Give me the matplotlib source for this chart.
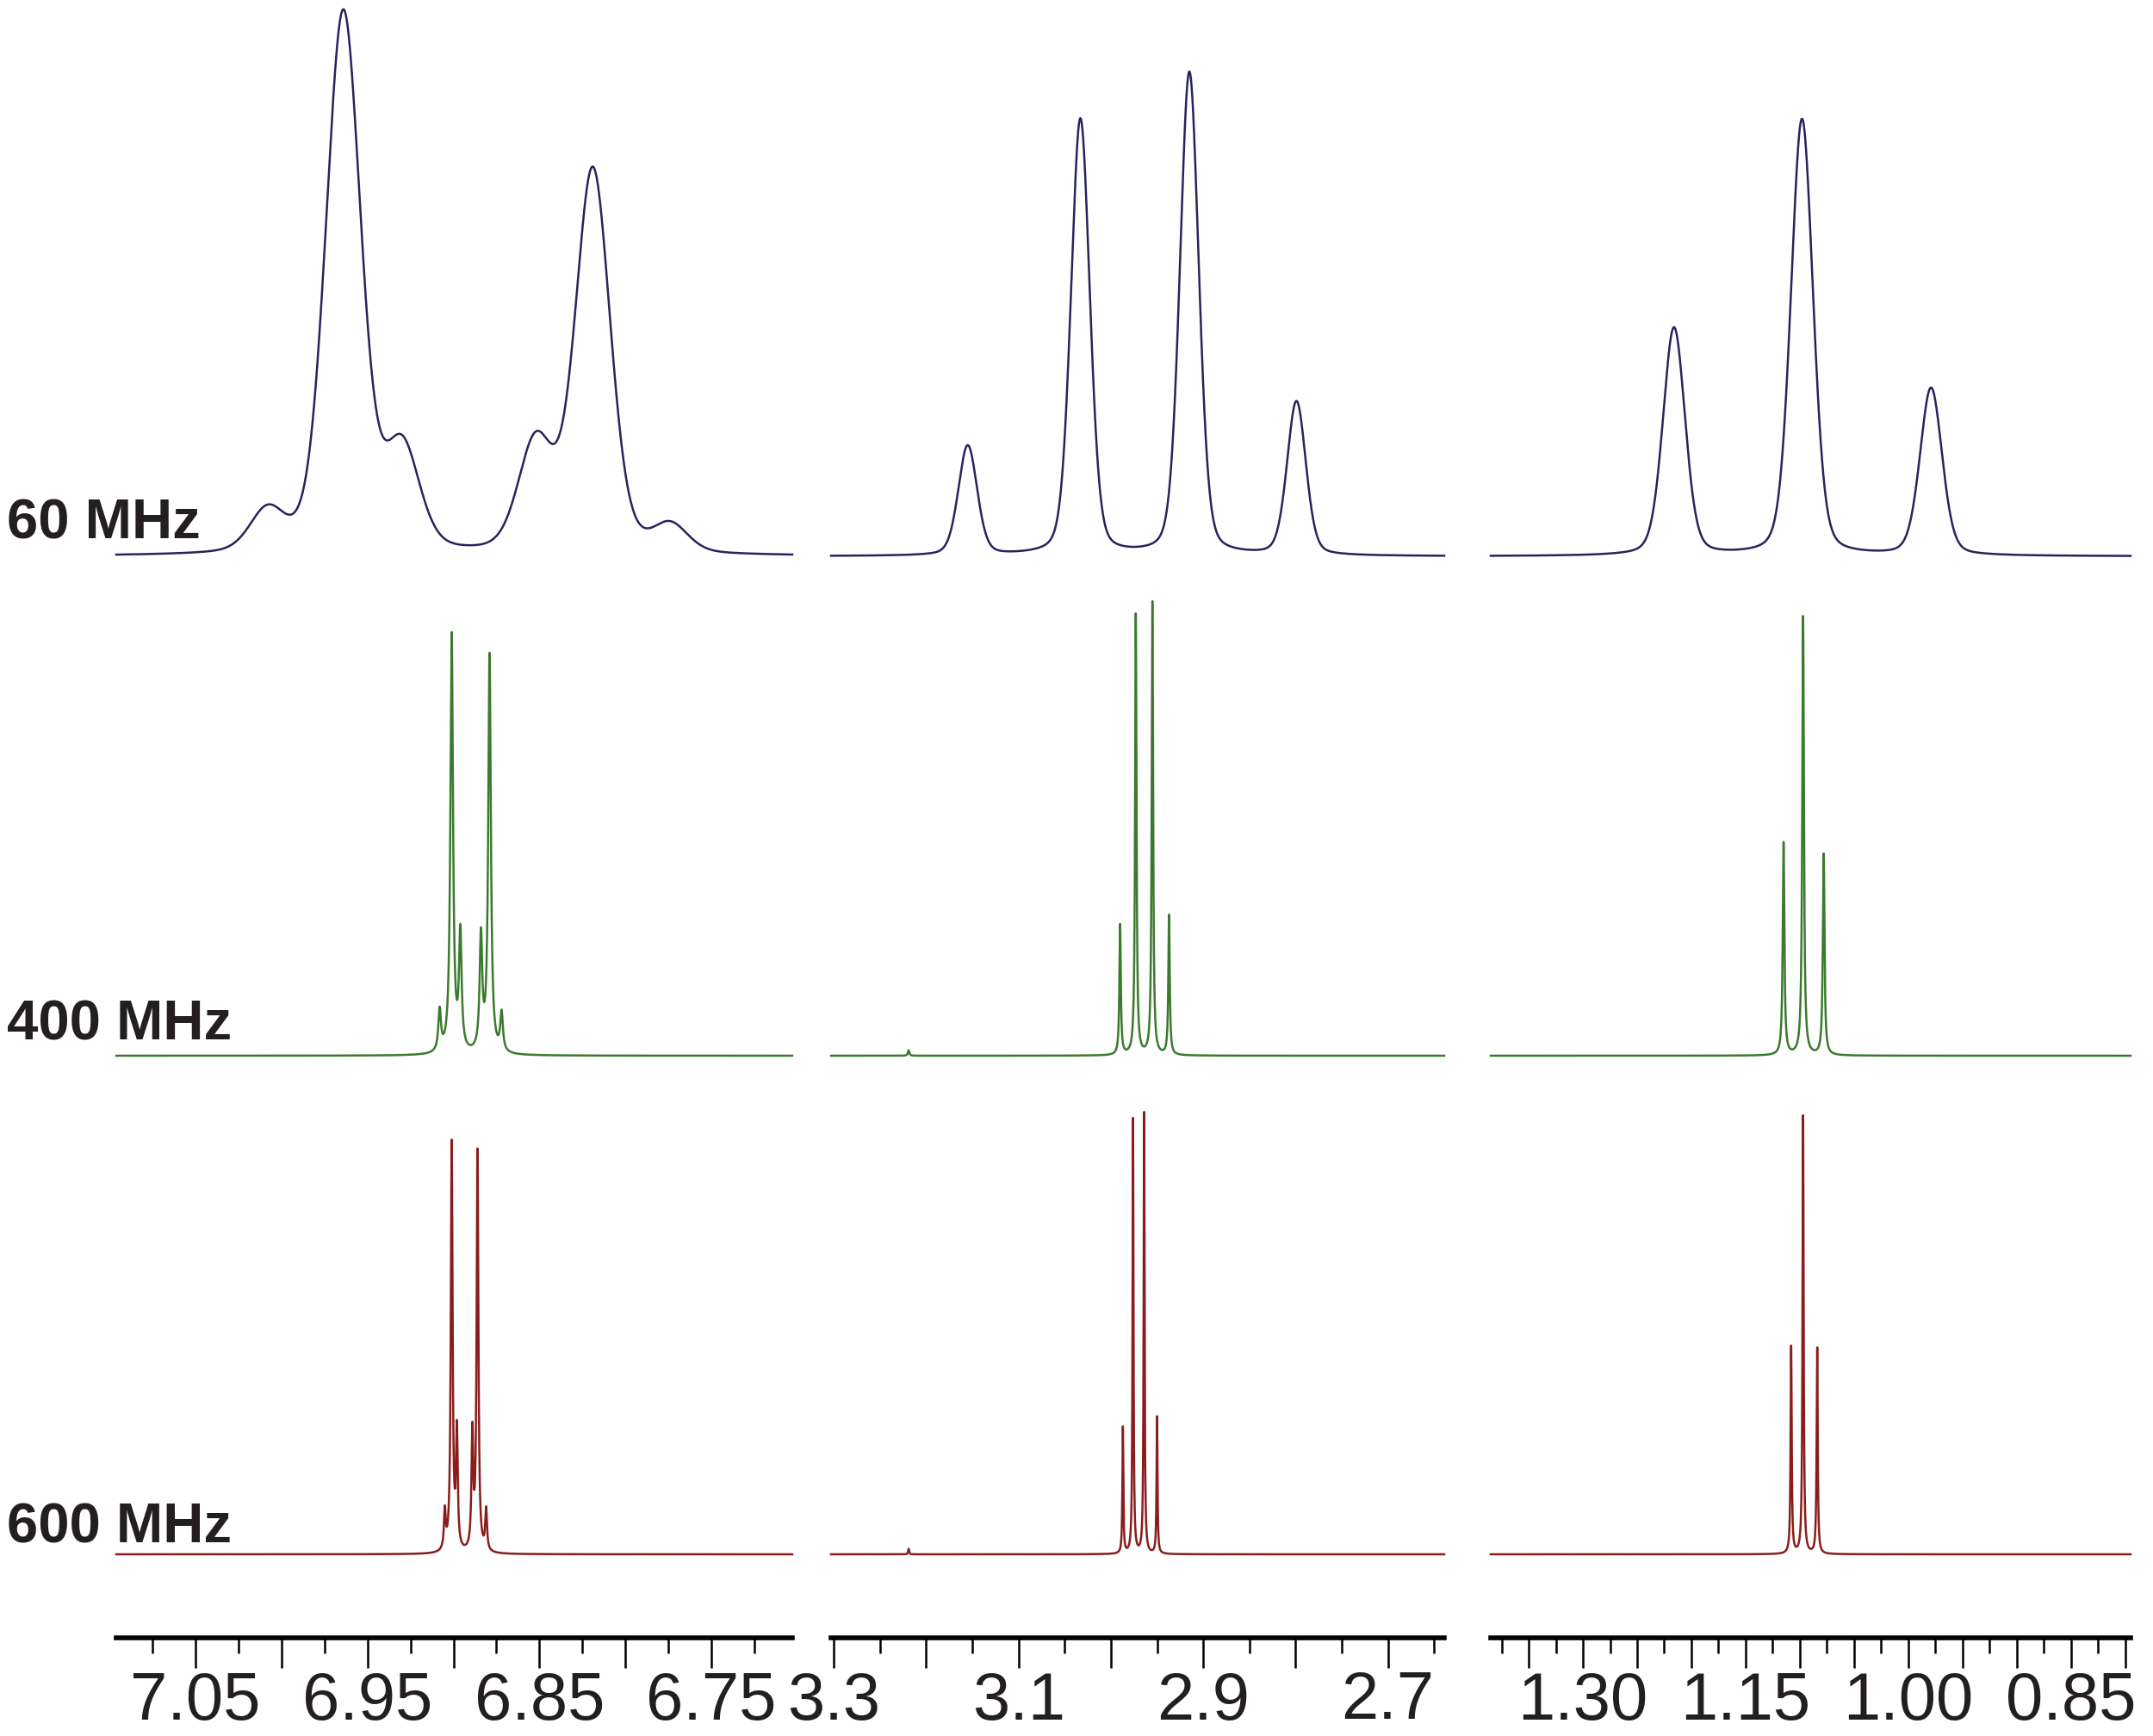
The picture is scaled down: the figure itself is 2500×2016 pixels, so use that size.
import numpy as np
import matplotlib
matplotlib.use("Agg")
import matplotlib.pyplot as plt
from matplotlib.ticker import FixedLocator, FixedFormatter

# peak lists per region: centres (ppm), heights (ref px), widths (FWHM ppm)
regions = [
    dict(xlim=(7.096, 6.703), major=np.arange(6.70, 7.101, 0.05), minor=np.arange(6.70, 7.101, 0.025),
         labels=[7.05, 6.95, 6.85, 6.75], fmt="{:.2f}", px=(135, 920)),
    dict(xlim=(3.303, 2.639), major=np.arange(2.6, 3.31, 0.1), minor=np.arange(2.6, 3.31, 0.05),
         labels=[3.3, 3.1, 2.9, 2.7], fmt="{:.1f}", px=(965, 1677)),
    dict(xlim=(1.385, 0.795), major=np.arange(0.80, 1.39, 0.05), minor=np.arange(0.80, 1.39, 0.025),
         labels=[1.30, 1.15, 1.00, 0.85], fmt="{:.2f}", px=(1731, 2474)),
]

c60 = [[7.008, 6.964, 6.930, 6.852, 6.819, 6.774],
       [3.155, 3.033, 2.915, 2.799],
       [1.216, 1.098, 0.979]]
h60 = [[30, 395, 75, 80, 280, 20],
       [80, 318, 352, 112],
       [166, 318, 122]]
w60 = 0.024

c400 = [[6.908, 6.901, 6.896, 6.884, 6.879, 6.872],
        [3.219, 2.990, 2.973, 2.955, 2.937],
        [1.115, 1.097, 1.078]]
h400 = [[30, 305, 85, 83, 290, 28],
        [4, 95, 322, 330, 102],
        [155, 320, 147]]
w400 = 0.0018

c600 = [[6.905, 6.901, 6.898, 6.889, 6.886, 6.881],
        [3.219, 2.987, 2.976, 2.964, 2.950],
        [1.108, 1.097, 1.084]]
h600 = [[28, 298, 85, 84, 292, 30],
        [4, 92, 318, 322, 100],
        [152, 320, 151]]
w600 = 0.0012

fields = ["60 MHz", "400 MHz", "600 MHz"]
colors = ["#27235e", "#3b7a2e", "#8a1c1c"]
baselines = [646, 1226, 1805]  # pixel rows from top
label_y = [625, 1207, 1792]
lorentz_frac = [0.25, 1.0, 1.0]

W, H = 2500, 2016
AX_BOTTOM = 1902
fig = plt.figure(figsize=(W / 100, H / 100), dpi=100)
SCALE = 1.594


def spectrum(x, centres, heights, fwhm, eta):
    y = np.zeros_like(x)
    for c, h in zip(centres, heights):
        d = (x - c) / (fwhm / 2)
        y += h * (eta / (1 + d ** 2) + (1 - eta) * np.exp(-np.log(2) * d ** 2))
    return y


for i, r in enumerate(regions):
    x0, x1 = r["px"]
    ax = fig.add_axes([x0 / W, 1 - AX_BOTTOM / H, (x1 - x0) / W, AX_BOTTOM / H])
    ax.set_xlim(*r["xlim"])
    ax.set_ylim(0, AX_BOTTOM)
    x = np.linspace(r["xlim"][0], r["xlim"][1], 6000)
    sets = [(c60[i], h60[i], w60), (c400[i], h400[i], w400), (c600[i], h600[i], w600)]
    for k, (cs, hs, w) in enumerate(sets):
        y = spectrum(x, cs, np.array(hs) * SCALE, w, lorentz_frac[k])
        ax.plot(x, AX_BOTTOM - baselines[k] + y, color=colors[k], lw=1.8, clip_on=False)
    for s in ["top", "left", "right"]:
        ax.spines[s].set_visible(False)
    ax.spines["bottom"].set_linewidth(4)
    ax.set_yticks([])
    ax.xaxis.set_major_locator(FixedLocator(r["major"]))
    ax.xaxis.set_minor_locator(FixedLocator(r["minor"]))
    labs = []
    for m in r["major"]:
        labs.append(next((r["fmt"].format(l) for l in r["labels"] if abs(l - m) < 1e-6), ""))
    ax.xaxis.set_major_formatter(FixedFormatter(labs))
    ax.tick_params(axis="x", which="major", length=25, width=1.8, direction="out", pad=2,
                   labelsize=56, labelcolor="#231f20")
    ax.tick_params(axis="x", which="minor", length=13, width=1.8, direction="out")
    for t in ax.get_xticklabels():
        t.set_family(["Liberation Sans", "DejaVu Sans"])

for name, yy in zip(fields, label_y):
    fig.text(8 / W, 1 - yy / H, name, fontsize=47, fontweight="bold", color="#231f20",
             family=["Liberation Sans", "DejaVu Sans"], ha="left", va="baseline")

fig.savefig("out.png", dpi=100)
